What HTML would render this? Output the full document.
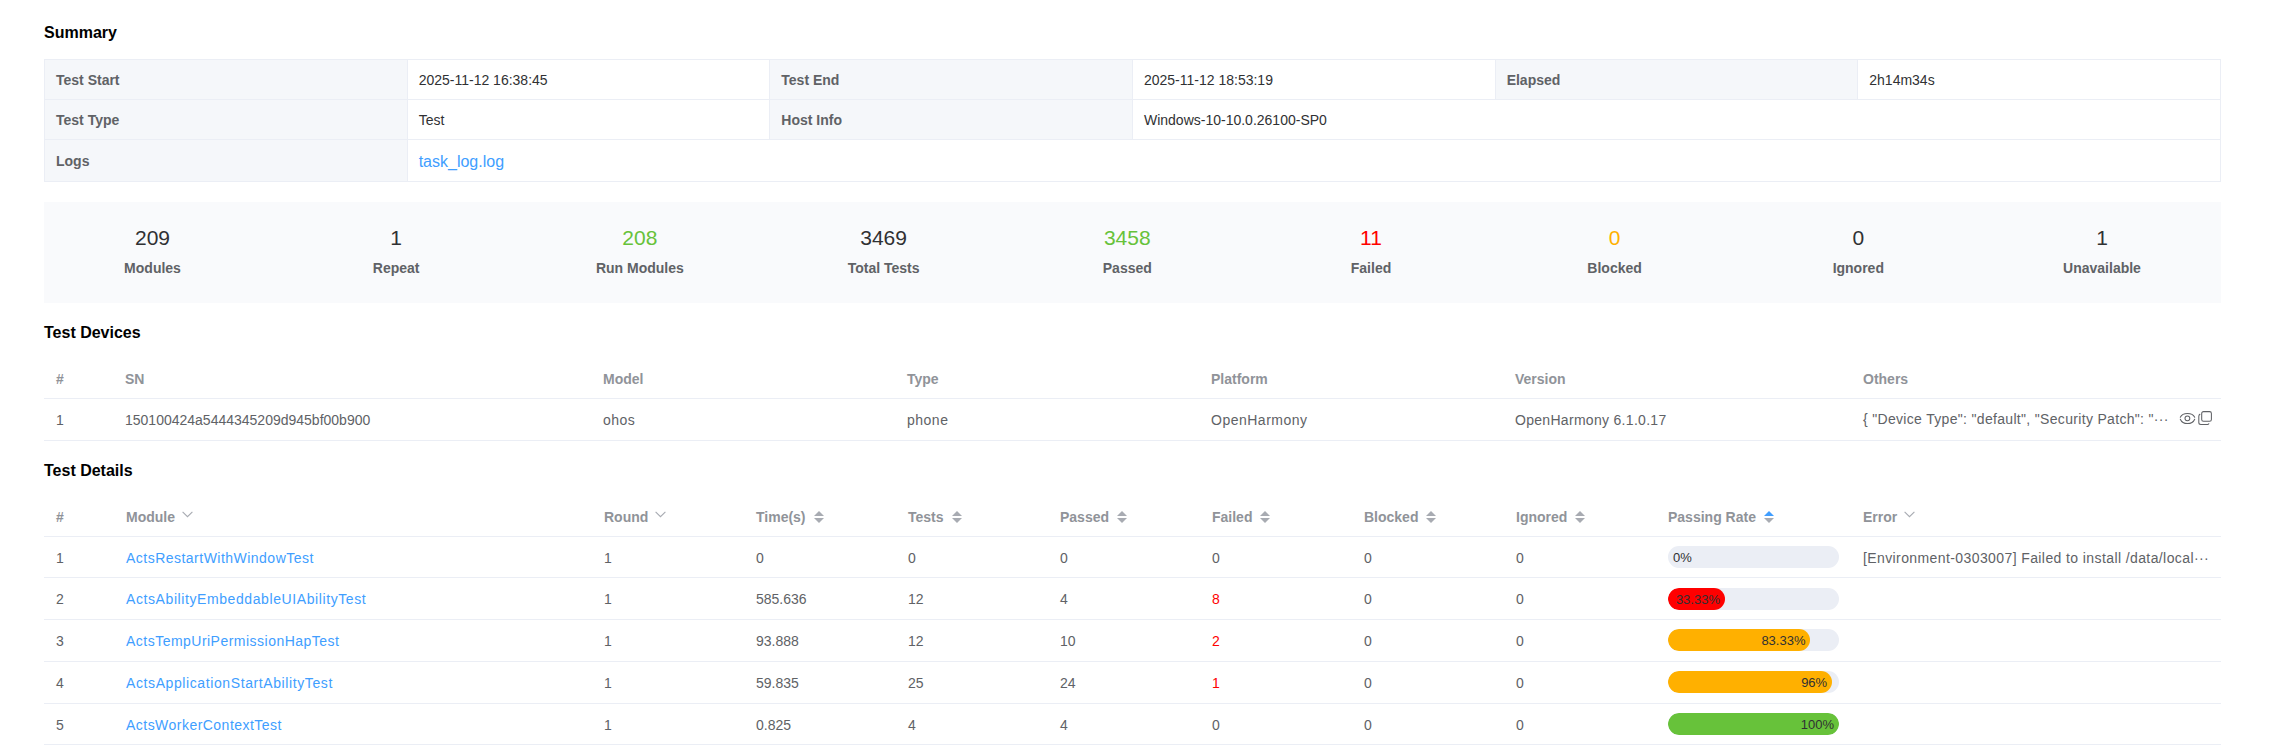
<!DOCTYPE html>
<html>
<head>
<meta charset="utf-8">
<style>
*{box-sizing:border-box;margin:0;padding:0}
html,body{width:2293px;height:751px;overflow:hidden;background:#fff}
body{font-family:"Liberation Sans",sans-serif;font-size:14px;color:#606266;position:relative}
.abs{position:absolute}
.title{position:absolute;left:44px;font-size:16px;font-weight:bold;color:#000;line-height:20px;white-space:nowrap}
/* summary table */
.sum{position:absolute;left:44px;top:59px;width:2177px;border-collapse:collapse;table-layout:fixed}
.sum td{border:1px solid #ebeef5;padding:0 11px;white-space:nowrap;line-height:20px;font-size:14px;vertical-align:middle}
.sum td.l{background:#f5f7fa;color:#606266;font-weight:bold}
.sum td.v{color:#303133;background:#fff}
.sum a{color:#409eff;text-decoration:none;font-size:16px;position:relative;top:1px}
/* stats */
.stats{position:absolute;left:44px;top:202px;width:2177px;height:101px;background:#f9fafc}
.st{position:absolute;width:240px;text-align:center;white-space:nowrap}
.st .n{position:absolute;left:0;right:0;top:24px;font-size:21px;line-height:24px;color:#303133}
.st .t{position:absolute;left:0;right:0;top:56px;font-size:14px;line-height:20px;font-weight:bold;color:#606266}
/* tables */
.red{color:#f00}
.line{position:absolute;left:44px;width:2177px;height:1px;background:#ebeef5}
.c{position:absolute;white-space:nowrap;line-height:20px;font-size:14px;color:#606266}
.c.hd{font-weight:bold;color:#909399}
.c.lnk{color:#409eff}
.c.red{color:#f00}
.chev{margin-left:7px;vertical-align:top;position:relative;top:4px}
.sort{margin-left:8px;vertical-align:top;position:relative;top:4px}
.bar{position:absolute;width:171px;height:22px;border-radius:11px;background:#ebeef5;overflow:hidden}
.bar .in{height:22px;border-radius:11px;text-align:right;white-space:nowrap;line-height:22px;font-size:13px;color:#303133}
.bar .in span{margin:0 5px;position:relative;top:1px}
.lnk{color:#409eff}
</style>
</head>
<body>

<div class="title" style="top:23px">Summary</div>

<table class="sum">
<colgroup><col><col><col><col><col><col></colgroup>
<tr style="height:40px"><td class="l">Test Start</td><td class="v">2025-11-12 16:38:45</td><td class="l">Test End</td><td class="v">2025-11-12 18:53:19</td><td class="l">Elapsed</td><td class="v">2h14m34s</td></tr>
<tr style="height:40px"><td class="l">Test Type</td><td class="v">Test</td><td class="l">Host Info</td><td class="v" colspan="3">Windows-10-10.0.26100-SP0</td></tr>
<tr style="height:42px"><td class="l">Logs</td><td class="v" colspan="5"><a>task_log.log</a></td></tr>
</table>

<div class="stats">
<div class="st" style="left:-11.5px"><div class="n" style="color:#303133">209</div><div class="t">Modules</div></div>
<div class="st" style="left:232.2px"><div class="n" style="color:#303133">1</div><div class="t">Repeat</div></div>
<div class="st" style="left:475.9px"><div class="n" style="color:#67c23a">208</div><div class="t">Run Modules</div></div>
<div class="st" style="left:719.6px"><div class="n" style="color:#303133">3469</div><div class="t">Total Tests</div></div>
<div class="st" style="left:963.3px"><div class="n" style="color:#67c23a">3458</div><div class="t">Passed</div></div>
<div class="st" style="left:1207.0px"><div class="n" style="color:#ff0000">11</div><div class="t">Failed</div></div>
<div class="st" style="left:1450.6px"><div class="n" style="color:#ffb000">0</div><div class="t">Blocked</div></div>
<div class="st" style="left:1694.3px"><div class="n" style="color:#303133">0</div><div class="t">Ignored</div></div>
<div class="st" style="left:1938.0px"><div class="n" style="color:#303133">1</div><div class="t">Unavailable</div></div>
</div>

<div class="title" style="top:323px">Test Devices</div>

<div class="line" style="top:398px"></div>
<div class="line" style="top:440px"></div>
<div class="c hd" style="left:56px;top:369px">#</div>
<div class="c hd" style="left:125px;top:369px">SN</div>
<div class="c hd" style="left:603px;top:369px">Model</div>
<div class="c hd" style="left:907px;top:369px">Type</div>
<div class="c hd" style="left:1211px;top:369px">Platform</div>
<div class="c hd" style="left:1515px;top:369px">Version</div>
<div class="c hd" style="left:1863px;top:369px">Others</div>
<div class="c" style="left:56px;top:410px">1</div>
<div class="c" style="left:125px;top:410px">150100424a5444345209d945bf00b900</div>
<div class="c" style="left:603px;top:410px;letter-spacing:0.5px">ohos</div>
<div class="c" style="left:907px;top:410px;letter-spacing:0.5px">phone</div>
<div class="c" style="left:1211px;top:410px;letter-spacing:0.5px">OpenHarmony</div>
<div class="c" style="left:1515px;top:410px;letter-spacing:0.3px">OpenHarmony 6.1.0.17</div>
<div class="c" style="left:1863px;top:409px;letter-spacing:0.32px">{ "Device Type": "default", "Security Patch": "···</div>
<svg class="abs" style="left:2178px;top:410px" width="36" height="16" viewBox="0 0 36 16"><g fill="none" stroke="#606266" stroke-width="1.05" stroke-linecap="round"><path d="M2.3 7.2 C4.8 2.2 14.2 2.2 16.7 7.2"/><path d="M2.3 9.2 C4.8 15 14.2 15 16.7 9.2"/><circle cx="9.4" cy="8.3" r="2.4"/><rect x="23.7" y="1.6" width="9.7" height="9.6" rx="1.8"/><path d="M21.9 4.3 Q20.8 5 20.8 6.5 V12.4 Q20.8 14.4 22.8 14.4 H29.6 Q30.4 14.4 30.8 13.7"/></g></svg>

<div class="title" style="top:461px">Test Details</div>
<div class="line" style="top:536px"></div>
<div class="line" style="top:577px"></div>
<div class="line" style="top:619px"></div>
<div class="line" style="top:661px"></div>
<div class="line" style="top:703px"></div>
<div class="line" style="top:744px"></div>
<div class="c hd" style="left:56px;top:507px">#</div>
<div class="c hd" style="left:126px;top:507px">Module<svg class="chev" width="11" height="7" viewBox="0 0 11 7"><path d="M0.6 0.8 L5.5 5.7 L10.4 0.8" fill="none" stroke="#a8abb2" stroke-width="1.1"/></svg></div>
<div class="c hd" style="left:604px;top:507px">Round<svg class="chev" width="11" height="7" viewBox="0 0 11 7"><path d="M0.6 0.8 L5.5 5.7 L10.4 0.8" fill="none" stroke="#a8abb2" stroke-width="1.1"/></svg></div>
<div class="c hd" style="left:756px;top:507px">Time(s)<svg class="sort" width="10" height="12" viewBox="0 0 10 12"><path d="M0 5 L5 0 L10 5 Z" fill="#a8abb2"/><path d="M0 7 L5 12 L10 7 Z" fill="#a8abb2"/></svg></div>
<div class="c hd" style="left:908px;top:507px">Tests<svg class="sort" width="10" height="12" viewBox="0 0 10 12"><path d="M0 5 L5 0 L10 5 Z" fill="#a8abb2"/><path d="M0 7 L5 12 L10 7 Z" fill="#a8abb2"/></svg></div>
<div class="c hd" style="left:1060px;top:507px">Passed<svg class="sort" width="10" height="12" viewBox="0 0 10 12"><path d="M0 5 L5 0 L10 5 Z" fill="#a8abb2"/><path d="M0 7 L5 12 L10 7 Z" fill="#a8abb2"/></svg></div>
<div class="c hd" style="left:1212px;top:507px">Failed<svg class="sort" width="10" height="12" viewBox="0 0 10 12"><path d="M0 5 L5 0 L10 5 Z" fill="#a8abb2"/><path d="M0 7 L5 12 L10 7 Z" fill="#a8abb2"/></svg></div>
<div class="c hd" style="left:1364px;top:507px">Blocked<svg class="sort" width="10" height="12" viewBox="0 0 10 12"><path d="M0 5 L5 0 L10 5 Z" fill="#a8abb2"/><path d="M0 7 L5 12 L10 7 Z" fill="#a8abb2"/></svg></div>
<div class="c hd" style="left:1516px;top:507px">Ignored<svg class="sort" width="10" height="12" viewBox="0 0 10 12"><path d="M0 5 L5 0 L10 5 Z" fill="#a8abb2"/><path d="M0 7 L5 12 L10 7 Z" fill="#a8abb2"/></svg></div>
<div class="c hd" style="left:1668px;top:507px">Passing Rate<svg class="sort" width="10" height="12" viewBox="0 0 10 12"><path d="M0 5 L5 0 L10 5 Z" fill="#409eff"/><path d="M0 7 L5 12 L10 7 Z" fill="#a8abb2"/></svg></div>
<div class="c hd" style="left:1863px;top:507px">Error<svg class="chev" width="11" height="7" viewBox="0 0 11 7"><path d="M0.6 0.8 L5.5 5.7 L10.4 0.8" fill="none" stroke="#a8abb2" stroke-width="1.1"/></svg></div>
<div class="c" style="left:56px;top:548px">1</div>
<div class="c lnk" style="left:126px;top:548px;letter-spacing:0.48px">ActsRestartWithWindowTest</div>
<div class="c" style="left:604px;top:548px">1</div>
<div class="c" style="left:756px;top:548px">0</div>
<div class="c" style="left:908px;top:548px">0</div>
<div class="c" style="left:1060px;top:548px">0</div>
<div class="c" style="left:1212px;top:548px">0</div>
<div class="c" style="left:1364px;top:548px">0</div>
<div class="c" style="left:1516px;top:548px">0</div>
<div class="bar" style="left:1668px;top:546px"><div class="in" style="width:0%;background:transparent"><span>0%</span></div></div>
<div class="c" style="left:1863px;top:548px;letter-spacing:0.4px">[Environment-0303007] Failed to install /data/local···</div>
<div class="c" style="left:56px;top:589px">2</div>
<div class="c lnk" style="left:126px;top:589px;letter-spacing:0.59px">ActsAbilityEmbeddableUIAbilityTest</div>
<div class="c" style="left:604px;top:589px">1</div>
<div class="c" style="left:756px;top:589px">585.636</div>
<div class="c" style="left:908px;top:589px">12</div>
<div class="c" style="left:1060px;top:589px">4</div>
<div class="c red" style="left:1212px;top:589px">8</div>
<div class="c" style="left:1364px;top:589px">0</div>
<div class="c" style="left:1516px;top:589px">0</div>
<div class="bar" style="left:1668px;top:588px"><div class="in" style="width:33.33%;background:#ff0000"><span>33.33%</span></div></div>
<div class="c" style="left:1863px;top:589px"></div>
<div class="c" style="left:56px;top:631px">3</div>
<div class="c lnk" style="left:126px;top:631px;letter-spacing:0.48px">ActsTempUriPermissionHapTest</div>
<div class="c" style="left:604px;top:631px">1</div>
<div class="c" style="left:756px;top:631px">93.888</div>
<div class="c" style="left:908px;top:631px">12</div>
<div class="c" style="left:1060px;top:631px">10</div>
<div class="c red" style="left:1212px;top:631px">2</div>
<div class="c" style="left:1364px;top:631px">0</div>
<div class="c" style="left:1516px;top:631px">0</div>
<div class="bar" style="left:1668px;top:629px"><div class="in" style="width:83.33%;background:#ffb000"><span>83.33%</span></div></div>
<div class="c" style="left:1863px;top:631px"></div>
<div class="c" style="left:56px;top:673px">4</div>
<div class="c lnk" style="left:126px;top:673px;letter-spacing:0.6px">ActsApplicationStartAbilityTest</div>
<div class="c" style="left:604px;top:673px">1</div>
<div class="c" style="left:756px;top:673px">59.835</div>
<div class="c" style="left:908px;top:673px">25</div>
<div class="c" style="left:1060px;top:673px">24</div>
<div class="c red" style="left:1212px;top:673px">1</div>
<div class="c" style="left:1364px;top:673px">0</div>
<div class="c" style="left:1516px;top:673px">0</div>
<div class="bar" style="left:1668px;top:671px"><div class="in" style="width:96%;background:#ffb000"><span>96%</span></div></div>
<div class="c" style="left:1863px;top:673px"></div>
<div class="c" style="left:56px;top:715px">5</div>
<div class="c lnk" style="left:126px;top:715px;letter-spacing:0.47px">ActsWorkerContextTest</div>
<div class="c" style="left:604px;top:715px">1</div>
<div class="c" style="left:756px;top:715px">0.825</div>
<div class="c" style="left:908px;top:715px">4</div>
<div class="c" style="left:1060px;top:715px">4</div>
<div class="c" style="left:1212px;top:715px">0</div>
<div class="c" style="left:1364px;top:715px">0</div>
<div class="c" style="left:1516px;top:715px">0</div>
<div class="bar" style="left:1668px;top:713px"><div class="in" style="width:100%;background:#67c23a"><span>100%</span></div></div>
<div class="c" style="left:1863px;top:715px"></div>


</body>
</html>
